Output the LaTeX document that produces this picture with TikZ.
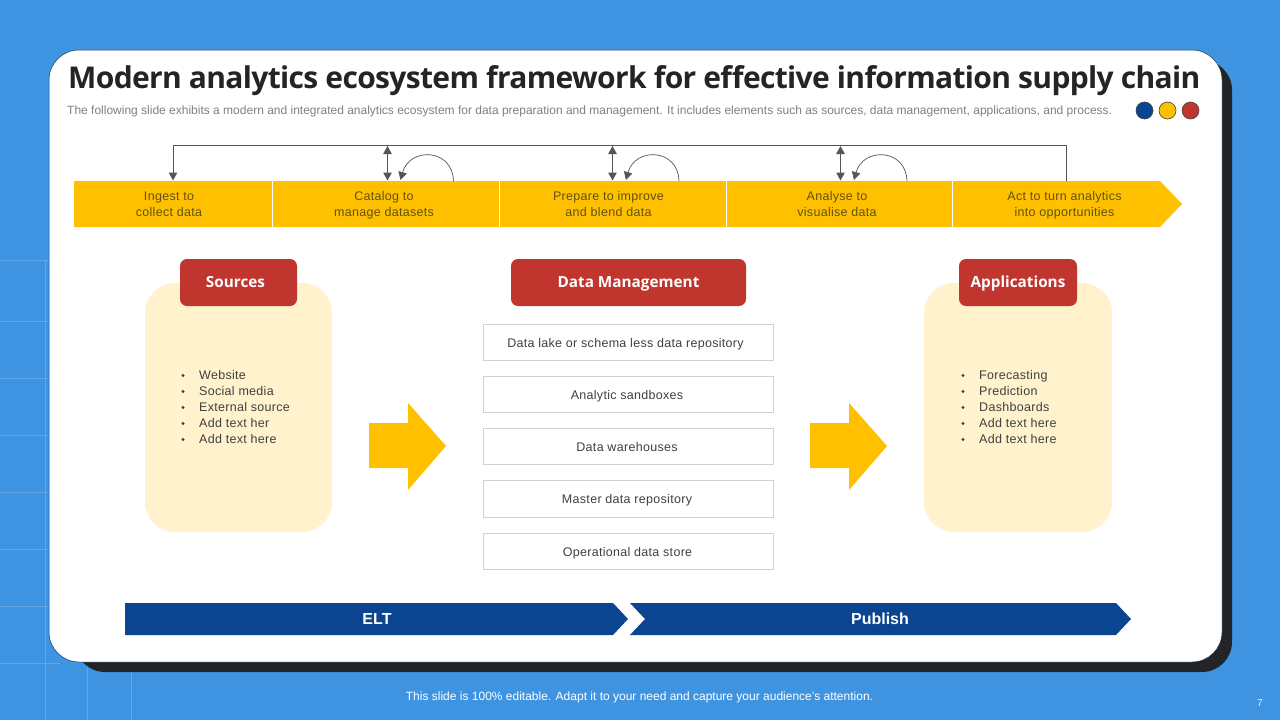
\documentclass[tikz,border=0pt]{standalone}
\usepackage{fontspec}
\setmainfont{Liberation Sans}
\newfontfamily\titlefont[LetterSpace=-2.2]{Open Sans}
\newfontfamily\headfont{Open Sans}
\newfontfamily\bodyf[LetterSpace=2.4]{Liberation Sans}
\usetikzlibrary{arrows.meta}
\definecolor{bgblue}{HTML}{3F94E2}
\definecolor{gridl}{HTML}{62A8E8}
\definecolor{ink}{HTML}{222426}
\definecolor{edge}{HTML}{16324F}
\definecolor{amber}{HTML}{FFC000}
\definecolor{navy}{HTML}{0B4592}
\definecolor{brick}{HTML}{C0352D}
\definecolor{cream}{HTML}{FFF2CC}
\definecolor{barink}{HTML}{62500F}
\definecolor{conn}{HTML}{555555}
\definecolor{bodyink}{HTML}{404040}
\newcommand{\twol}[2]{\rule{0pt}{9pt}#1\\#2\rule[-3pt]{0pt}{3pt}}
\tikzset{
  x=1pt,y=-1pt,
  segtext/.style={font=\bodyf\fontsize{12.5}{16}\selectfont,text=barink,align=center,inner sep=0pt},
  head/.style={fill=brick,rounded corners=7pt,text=white,inner sep=0pt,text height=13pt,text depth=3pt,
    font=\headfont\fontsize{15.3}{16}\selectfont\bfseries},
  panel/.style={fill=cream,rounded corners=30pt,inner sep=0pt,minimum height=249pt},
  listtext/.style={font=\bodyf\fontsize{12.5}{16}\selectfont,text=bodyink,align=left,inner sep=0pt,anchor=north west},
  storebox/.style={draw=black!18,fill=white,line width=.8pt,minimum width=290pt,inner sep=0pt,
    text height=12pt,text depth=3pt,font=\bodyf\fontsize{12.5}{14}\selectfont,text=bodyink},
  conline/.style={draw=conn,line width=1pt},
  tip/.style={-{Triangle[length=8pt,width=8.5pt]}},
  dbl/.style={{Triangle[length=8pt,width=8.5pt]}-{Triangle[length=8pt,width=8.5pt]}},
  dot/.style={circle,draw=black!75,line width=.6pt,minimum size=17pt,inner sep=0pt},
  barlabel/.style={text=white,font=\fontsize{16}{18}\selectfont\bfseries,inner sep=0pt}
}
\begin{document}
\begin{tikzpicture}
\useasboundingbox (0,0) rectangle (1280,720);
\fill[bgblue] (0,0) rectangle (1280,720);
% grid
\foreach \y in {260,321,378,435,492,549,606,663}
  \draw[gridl,line width=.7pt] (0,\y) -- (60,\y);
\draw[gridl,line width=.7pt] (45,260) -- (45,720);
\draw[gridl,line width=.7pt] (87,655) -- (87,720);
\draw[gridl,line width=.7pt] (131,655) -- (131,720);
% card
\fill[ink,rounded corners=30pt] (75,60) rectangle (1232,672);
\draw[draw=edge,fill=white,line width=.5pt,rounded corners=30pt] (49,50) rectangle (1222,662);
% title
\node[anchor=west,inner sep=0pt,text=ink,text height=29pt,text depth=7pt,font=\titlefont\fontsize{30}{34}\selectfont\bfseries] (title) at (68,77)
  {Modern analytics ecosystem framework for effective information supply chain};
\node[anchor=west,inner sep=0pt,text=black!50,text height=9pt,text depth=3pt,font=\fontsize{12}{14}\selectfont] (sub) at (67,111.5)
  {The following slide exhibits a modern and integrated analytics ecosystem for data preparation and management. It includes elements such as sources, data management, applications, and process.};
\node[dot,fill=navy] (d1) at (1144.5,110.5) {};
\node[dot,fill=amber] (d2) at (1167.5,110.5) {};
\node[dot,fill=brick] (d3) at (1190.5,110.5) {};
% process bar
\fill[amber] (74,181) -- (1160,181) -- (1182,204) -- (1160,227) -- (74,227) -- cycle;
\foreach \x in {272.5,499.5,726.5,952.5}
  \draw[white,line width=.9pt] (\x,181) -- (\x,227);
\node[segtext] (s1) at (169,205) {\twol{Ingest to}{collect data}};
\node[segtext] (s2) at (384,205) {\twol{Catalog to}{manage datasets}};
\node[segtext] (s3) at (608.5,205) {\twol{Prepare to improve}{and blend data}};
\node[segtext] (s4) at (837,205) {\twol{Analyse to}{visualise data}};
\node[segtext] (s5) at (1064.5,205) {\twol{Act to turn analytics}{into opportunities}};
% connectors
\coordinate (fbR) at (1066,181);
\coordinate (fbL) at (173,180.5);
\coordinate (fbT) at (173,145.5);
\coordinate (fbTR) at (1066,145.5);
\draw[conline,tip] (fbR) -- (fbTR) -- (fbT) -- (fbL);
\foreach \x/\n in {387.5/a,612.5/b,840.5/c}{
  \coordinate (\n top) at (\x,146);
  \coordinate (\n bot) at (\x,180.5);
  \draw[conline,dbl] (\n top) -- (\n bot);
}
\foreach \x/\n in {453.5/a,679/b,907/c}{
  \coordinate (\n arcS) at (\x,181);
  \coordinate (\n arcE) at (\x-53,180);
  \draw[draw=conn,line width=.7pt,tip] (\n arcS) .. controls (\x-1,148) and (\x-44,147) .. (\n arcE);
}
% panels
\node[panel,minimum width=187pt] (pS) at (238.5,407.5) {};
\node[panel,minimum width=188pt] (pA) at (1018,407.5) {};
\node[head,minimum width=117pt,minimum height=47pt] (hS) at (238.5,282.5) {\hspace*{-6pt}Sources};
\node[head,minimum width=235pt,minimum height=47pt] (hD) at (628.5,282.5) {Data Management};
\node[head,minimum width=118pt,minimum height=47pt] (hA) at (1018,282.5) {Applications};
% lists
\node[listtext] (lS) at (199,370.5) {Website\\Social media\\External source\\Add text her\\Add text here};
\node[listtext] (lA) at (979,370.5) {Forecasting\\Prediction\\Dashboards\\Add text here\\Add text here};
\foreach \y in {375.5,391.5,407.5,423.5,439.5}{
  \fill[bodyink] (183,\y) circle (1.7pt);
  \fill[bodyink] (963,\y) circle (1.7pt);
}
% stores
\node[storebox,minimum height=36.5pt] (b1) at (628.5,342.5) {\hspace*{-6pt}Data lake or schema less data repository};
\node[storebox,minimum height=36.5pt] (b2) at (628.5,394.5) {\hspace*{-3pt}Analytic sandboxes};
\node[storebox,minimum height=36.5pt] (b3) at (628.5,446.5) {\hspace*{-3pt}Data warehouses};
\node[storebox,minimum height=37.5pt] (b4) at (628.5,499) {\hspace*{-3pt}Master data repository};
\node[storebox,minimum height=36.5pt] (b5) at (628.5,551.5) {\hspace*{-2pt}Operational data store};
% big arrows
\foreach \x in {369,810}
  \fill[amber] (\x,423) -- (\x+39,423) -- (\x+39,403) -- (\x+77,446) -- (\x+39,490) -- (\x+39,468) -- (\x,468) -- cycle;
% bottom bars
\fill[navy] (125,603) -- (613,603) -- (628,619) -- (613,635) -- (125,635) -- cycle;
\fill[navy] (630,603) -- (1116,603) -- (1131,619) -- (1116,635) -- (630,635) -- (645,619) -- cycle;
\node[barlabel] (elt) at (377,619) {ELT};
\node[barlabel] (pub) at (880,619) {Publish};
% footer
\node[text=white,inner sep=0pt,text height=9pt,text depth=3pt,font=\fontsize{12}{14}\selectfont] (foot) at (639.5,697.5)
  {This slide is 100\% editable. Adapt it to your need and capture your audience’s attention.};
\node[text=white!85!bgblue,inner sep=0pt,font=\fontsize{10}{12}\selectfont] (pg) at (1260,703) {7};
\end{tikzpicture}
\end{document}
